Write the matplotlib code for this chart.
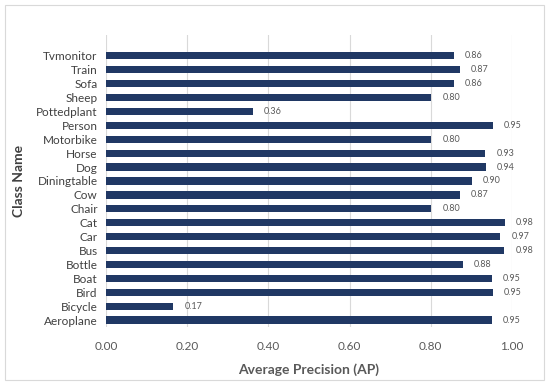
import matplotlib
matplotlib.use("Agg")
import matplotlib.pyplot as plt
from matplotlib.patches import Rectangle

# class names, bottom to top as drawn
classes = ['Aeroplane', 'Bicycle', 'Bird', 'Boat', 'Bottle', 'Bus', 'Car', 'Cat',
           'Chair', 'Cow', 'Diningtable', 'Dog', 'Horse', 'Motorbike', 'Person',
           'Pottedplant', 'Sheep', 'Sofa', 'Train', 'Tvmonitor']
ap = [0.951, 0.166, 0.952, 0.951, 0.879, 0.981, 0.971, 0.983,
      0.801, 0.871, 0.901, 0.936, 0.934, 0.801, 0.952,
      0.362, 0.801, 0.857, 0.871, 0.857]
xticks = [0.0, 0.2, 0.4, 0.6, 0.8, 1.0]

plt.rcParams['font.family'] = ['Lato', 'DejaVu Sans']

fig = plt.figure(figsize=(5.5, 3.85), dpi=100)
ax = fig.add_axes([106/550, 1 - 327/385, 406/550, 292/385])

bar_color = '#203864'
text_color = '#595959'

pos = list(range(len(classes)))
ax.barh(pos, ap, height=0.52, color=bar_color, zorder=3)

# value labels just right of each bar
for y, v in zip(pos, ap):
    ax.annotate(f'{v:.2f}', (v, y), xytext=(8, 0), textcoords='offset points',
                va='center', ha='left', fontsize=6.5, color=text_color)

ax.set_xlim(0, 1.0)
ax.set_ylim(-0.5, 20.5)
ax.set_yticks(pos)
ax.set_yticklabels(classes, fontsize=8.5, color='#404040')
ax.set_xticks(xticks)
ax.set_xticklabels([f'{t:.2f}' for t in xticks], fontsize=8.5, color=text_color)
ax.tick_params(axis='both', length=0, pad=6)
ax.tick_params(axis='x', pad=10)
ax.grid(axis='x', color='#d9d9d9', linewidth=0.8, zorder=0)
for s in ax.spines.values():
    s.set_visible(False)

ax.set_xlabel('Average Precision (AP)', fontsize=10, fontweight='bold',
              color=text_color, labelpad=8)
ax.set_ylabel('Class Name', fontsize=10, fontweight='bold', color='#404040',
              labelpad=8)

# light chart-area border
fig.patches.append(Rectangle((5/550, 5/385), 539/550, 375/385, transform=fig.transFigure,
                             fill=False, edgecolor='#d9d9d9', linewidth=0.8))

fig.savefig('out.png', dpi=100)
